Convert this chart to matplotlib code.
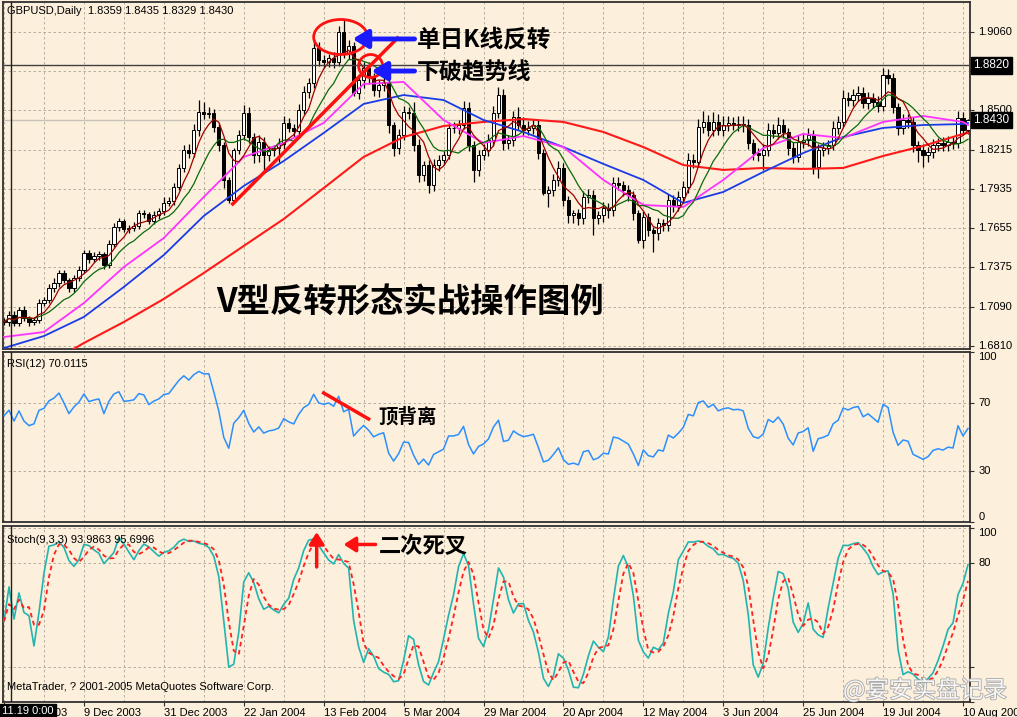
import numpy as np
import pandas as pd
import matplotlib
matplotlib.use('Agg')
import matplotlib.pyplot as plt
import matplotlib.patheffects as pe
from matplotlib.patches import Ellipse
from matplotlib.transforms import blended_transform_factory

# Datos: cierres diarios GBPUSD (17 Nov 2003 - 11 Aug 2004)
close = [
    1.6981, 1.7031, 1.6974, 1.7067, 1.7009, 1.6981, 1.6995, 1.7117,
    1.7138, 1.7224, 1.7260, 1.7332, 1.7282, 1.7224, 1.7296, 1.7354,
    1.7475, 1.7432, 1.7454, 1.7468, 1.7389, 1.7540, 1.7662, 1.7705,
    1.7647, 1.7655, 1.7669, 1.7762, 1.7755, 1.7705, 1.7748, 1.7776,
    1.7834, 1.7848, 1.7949, 1.8085, 1.8214, 1.8192, 1.8357, 1.8486,
    1.8472, 1.8479, 1.8379, 1.8250, 1.7999, 1.7855, 1.8214, 1.8321,
    1.8479, 1.8307, 1.8178, 1.8271, 1.8178, 1.8214, 1.8228, 1.8257,
    1.8408, 1.8372, 1.8350, 1.8501, 1.8630, 1.8694, 1.8945, 1.8859,
    1.8845, 1.8874, 1.8845, 1.9060, 1.8909, 1.8960, 1.8623, 1.8716,
    1.8802, 1.8737, 1.8644, 1.8680, 1.8702, 1.8393, 1.8228, 1.8321,
    1.8486, 1.8479, 1.8250, 1.8035, 1.8106, 1.7963, 1.8106, 1.8142,
    1.8178, 1.8372, 1.8372, 1.8393, 1.8515, 1.8250, 1.8071, 1.8178,
    1.8214, 1.8286, 1.8479, 1.8608, 1.8264, 1.8286, 1.8451, 1.8393,
    1.8357, 1.8372, 1.8393, 1.8192, 1.7906, 1.7927, 1.7999, 1.8085,
    1.7855, 1.7748, 1.7762, 1.7726, 1.7877, 1.7891, 1.7726, 1.7748,
    1.7798, 1.7784, 1.7977, 1.7963, 1.7927, 1.7891, 1.7762, 1.7569,
    1.7734, 1.7640, 1.7619, 1.7691, 1.7676, 1.7855, 1.7820, 1.7877,
    1.7949, 1.8142, 1.8128, 1.8379, 1.8415, 1.8357, 1.8415, 1.8357,
    1.8393, 1.8408, 1.8393, 1.8400, 1.8390, 1.8264, 1.8192, 1.8178,
    1.8214, 1.8357, 1.8336, 1.8393, 1.8343, 1.8228, 1.8164, 1.8271,
    1.8286, 1.8321, 1.8092, 1.8214, 1.8228, 1.8250, 1.8372, 1.8415,
    1.8587, 1.8572, 1.8608, 1.8623, 1.8551, 1.8587, 1.8558, 1.8529,
    1.8752, 1.8730, 1.8522, 1.8372, 1.8429, 1.8415, 1.8250, 1.8214,
    1.8178, 1.8200, 1.8250, 1.8264, 1.8250, 1.8271, 1.8264, 1.8443,
    1.8359, 1.8430]
first_open = 1.6990

# Sombras superior e inferior (pips)
up_pips = [
    20, 25, 30, 20, 25, 15, 20, 25, 20, 30, 35, 20, 25, 15, 20, 30,
    25, 20, 30, 25, 15, 30, 25, 20, 15, 20, 30, 25, 20, 15, 25, 20,
    40, 30, 25, 30, 35, 40, 45, 85, 70, 40, 30, 25, 20, 20, 15, 35,
    60, 45, 30, 50, 35, 30, 25, 40, 50, 35, 30, 45, 40, 35, 60, 40,
    35, 30, 40, 45, 86, 40, 30, 35, 45, 40, 30, 35, 40, 30, 25, 40,
    45, 35, 80, 40, 30, 35, 40, 35, 30, 45, 40, 35, 50, 40, 30, 35,
    40, 45, 50, 60, 40, 35, 40, 70, 60, 50, 45, 35, 30, 30, 40, 50,
    35, 30, 25, 30, 40, 45, 35, 30, 40, 35, 45, 40, 30, 35, 30, 25,
    40, 30, 25, 35, 30, 40, 35, 40, 45, 50, 40, 60, 80, 50, 70, 60,
    65, 50, 40, 55, 60, 45, 30, 35, 40, 50, 45, 55, 40, 30, 45, 50,
    40, 50, 35, 40, 45, 35, 50, 40, 60, 45, 40, 50, 45, 40, 35, 40,
    50, 40, 35, 30, 45, 40, 35, 30, 40, 35, 40, 35, 45, 40, 35, 50,
    40, 5]
dn_pips = [
    25, 30, 20, 25, 20, 30, 25, 20, 25, 20, 30, 25, 20, 30, 25, 20,
    20, 25, 20, 30, 25, 20, 25, 30, 20, 25, 20, 25, 30, 20, 25, 30,
    30, 25, 30, 25, 30, 35, 30, 40, 35, 30, 35, 40, 55, 21, 20, 30,
    35, 40, 60, 50, 110, 45, 40, 100, 35, 30, 40, 35, 30, 40, 35, 45,
    40, 35, 45, 30, 35, 40, 20, 45, 60, 50, 40, 50, 45, 60, 55, 40,
    35, 40, 45, 50, 40, 57, 45, 40, 35, 30, 35, 40, 30, 45, 86, 40,
    35, 40, 45, 35, 50, 45, 40, 35, 40, 35, 45, 40, 16, 100, 45, 40,
    45, 60, 55, 50, 45, 40, 120, 45, 50, 55, 40, 35, 45, 40, 50, 22,
    60, 45, 136, 50, 40, 45, 50, 40, 35, 40, 45, 35, 40, 45, 40, 35,
    40, 45, 35, 40, 45, 40, 50, 45, 108, 40, 35, 40, 45, 50, 40, 35,
    40, 45, 50, 80, 45, 40, 35, 40, 35, 40, 45, 40, 35, 40, 45, 40,
    35, 40, 45, 50, 40, 45, 50, 88, 85, 50, 45, 40, 45, 40, 45, 35,
    40, 30]

# Medias lentas
ma_idx = [0, 8, 16, 24, 32, 40, 48, 56, 64, 72, 80, 88, 96, 104, 112, 120,
          128, 136, 144, 152, 160, 168, 176, 184, 192, 193]
ma_magenta = [1.6873, 1.6909, 1.7117, 1.7375, 1.7583, 1.7877, 1.8164, 1.8264,
              1.8408, 1.8687, 1.8702, 1.8429, 1.8264, 1.8314, 1.8235, 1.7999,
              1.7820, 1.7805, 1.7999, 1.8228, 1.8329, 1.8300, 1.8415, 1.8458,
              1.8415, 1.8393]
ma_blue = [1.6794, 1.6880, 1.7017, 1.7232, 1.7461, 1.7741, 1.7956, 1.8135,
           1.8336, 1.8544, 1.8608, 1.8572, 1.8429, 1.8343, 1.8235, 1.8114,
           1.7999, 1.7834, 1.7913, 1.8056, 1.8192, 1.8307, 1.8372, 1.8393,
           1.8400, 1.8408]
ma_red = [1.6530, 1.6665, 1.6830, 1.6981, 1.7146, 1.7332, 1.7526, 1.7719,
          1.7941, 1.8164, 1.8307, 1.8386, 1.8415, 1.8436, 1.8415, 1.8343,
          1.8235, 1.8106, 1.8071, 1.8085, 1.8078, 1.8085, 1.8171, 1.8243,
          1.8329, 1.8336]

price_ticks = [1.9060, 1.8780, 1.8500, 1.8215, 1.7935, 1.7655, 1.7375, 1.7090, 1.6810]
date_pos = [0, 16, 32, 48, 64, 80, 96, 112, 128, 144, 160, 176, 192]
date_labels = ['17 Nov 2003', '9 Dec 2003', '31 Dec 2003', '22 Jan 2004', '13 Feb 2004',
               '5 Mar 2004', '29 Mar 2004', '20 Apr 2004', '12 May 2004', '3 Jun 2004',
               '25 Jun 2004', '19 Jul 2004', '10 Aug 2004']
rsi_seed = (0.0030, 0.0018)

# Configuración general
BG = '#fcefdb'
FRAME = '#303030'
GRID = '#aaa398'
UI = ['Liberation Sans', 'DejaVu Sans']
CJK = ['Noto Sans CJK SC', 'DejaVu Sans']
plt.rcParams['font.family'] = UI

# Cálculos de velas e indicadores
n = len(close)
x = np.arange(n)
c = np.array(close)
o = np.array([first_open] + close[:-1])
hi = np.maximum(o, c) + np.array(up_pips) / 10000
lo = np.minimum(o, c) - np.array(dn_pips) / 10000
sma5 = pd.Series(c).rolling(5, min_periods=1).mean()
sma10 = pd.Series(c).rolling(10, min_periods=1).mean()

g, l = rsi_seed
rsi = [100 * g / (g + l)]
for i in range(1, n):
    d = c[i] - c[i - 1]
    g = (g * 11 + max(d, 0)) / 12
    l = (l * 11 + max(-d, 0)) / 12
    rsi.append(100 * g / (g + l))

hh = pd.Series(hi).rolling(9, min_periods=1).max()
ll = pd.Series(lo).rolling(9, min_periods=1).min()
num = (pd.Series(c) - ll).rolling(3, min_periods=1).sum()
den = (hh - ll).rolling(3, min_periods=1).sum()
stoch_k = 100 * num / den
stoch_d = stoch_k.rolling(3, min_periods=1).mean()

# Figura y paneles
W, H = 1017, 717
fig = plt.figure(figsize=(W / 100, H / 100), dpi=100, facecolor=BG)


def panel(top, bottom):
    ax = fig.add_axes([3 / W, 1 - bottom / H, 967 / W, (bottom - top) / H])
    ax.set_facecolor(BG)
    for s in ax.spines.values():
        s.set_color(FRAME)
        s.set_linewidth(1.3)
    ax.set_xlim(-0.2, 193.4)
    ax.set_xticks(date_pos)
    ax.set_xticks([p + 8 for p in date_pos[:-1]], minor=True)
    ax.grid(True, which='both', linestyle=(0, (3, 3)), color=GRID, lw=0.6)
    ax.yaxis.tick_right()
    ax.tick_params(axis='x', which='both', length=0, labelbottom=False)
    ax.tick_params(axis='y', which='both', length=3, width=0.8, color=FRAME, labelright=False)
    ax.set_axisbelow(True)
    return ax


def right_label(ax, value, text, va='center'):
    tr = blended_transform_factory(ax.transAxes, ax.transData)
    ax.text(1.0085, value, text, transform=tr, ha='left', va=va, fontsize=8,
            color='black', clip_on=False)


ax1 = panel(2, 349)
ax2 = panel(352, 522)
ax3 = panel(526, 702)

# Panel principal: velas y medias
ax1.set_ylim(1.6787, 1.9275)
ax1.set_yticks(price_ticks)
up = c >= o
body = np.maximum(np.abs(c - o), 0.00025)
ax1.vlines(x, lo, hi, color='black', lw=0.9, zorder=2)
ax1.bar(x[up], body[up], bottom=o[up], width=0.65, color='white', edgecolor='black', lw=0.7, zorder=3)
ax1.bar(x[~up], body[~up], bottom=c[~up], width=0.65, color='black', edgecolor='black', lw=0.7, zorder=3)
ax1.plot(ma_idx, ma_red, color='#ff1a1a', lw=1.5, zorder=4)
ax1.plot(ma_idx, ma_blue, color='#1a3ce6', lw=1.3, zorder=4)
ax1.plot(ma_idx, ma_magenta, color='#ff33ff', lw=1.3, zorder=4)
ax1.plot(x, sma10, color='#0a6a0a', lw=0.9, zorder=4)
ax1.plot(x, sma5, color='#a00000', lw=0.9, zorder=4)
ax1.axhline(1.8430, color='#c8c2b8', lw=1, zorder=1)
ax1.axhline(1.8820, color='#404040', lw=1, zorder=5)
for t in price_ticks:
    right_label(ax1, t, '%.4f' % t)
box = dict(boxstyle='square,pad=0.18', fc='black', ec='black')
for v in (1.8820, 1.8430):
    tr = blended_transform_factory(ax1.transAxes, ax1.transData)
    ax1.text(1.0035, v, '%.4f' % v, transform=tr, ha='left', va='center', fontsize=8.5,
             color='white', bbox=box, clip_on=False, zorder=10)
ax1.text(0.004, 0.974, 'GBPUSD,Daily  1.8359 1.8435 1.8329 1.8430', transform=ax1.transAxes,
         fontsize=8, va='center', ha='left')

# Anotaciones del panel principal
ax1.add_patch(Ellipse((67.4, 1.9024), 10.8, 0.0251, fill=False, ec='#ff1010', lw=2, zorder=6))
ax1.add_patch(Ellipse((73.4, 1.8816), 4.8, 0.0165, fill=False, ec='#ff1010', lw=2, zorder=6))
ax1.plot([45.8, 78.8], [1.7827, 1.9017], color='#ff1010', lw=2.5, zorder=6)
arrow_blue = dict(arrowstyle='-|>,head_length=0.9,head_width=0.55', color='#1a1aff', lw=3.5,
                  shrinkA=0, shrinkB=0)
ax1.annotate('', xy=(69.8, 1.9010), xytext=(82.2, 1.9010), arrowprops=arrow_blue, zorder=7)
ax1.annotate('', xy=(73.6, 1.8780), xytext=(82.2, 1.8780), arrowprops=arrow_blue, zorder=7)
ax1.text(82.6, 1.9003, '单日K线反转', family=CJK, fontsize=17, weight='bold', va='center', zorder=8)
ax1.text(82.6, 1.8766, '下破趋势线', family=CJK, fontsize=16.5, weight='bold', va='center', zorder=8)
ax1.text(42.4, 1.7124, 'V型反转形态实战操作图例', family=CJK, fontsize=24, weight='bold',
         va='center', zorder=8)

# Panel RSI
ax2.set_ylim(0, 100)
ax2.set_yticks([0, 30, 70, 100])
ax2.plot(x, rsi, color='#2b8fff', lw=1.1, zorder=3)
right_label(ax2, 100, '100', va='top')
right_label(ax2, 70, '70')
right_label(ax2, 30, '30')
right_label(ax2, 0, '0', va='bottom')
ax2.text(0.004, 0.93, 'RSI(12) 70.0115', transform=ax2.transAxes, fontsize=8, va='center')
ax2.plot([64, 73], [75.9, 60.6], color='#ff1010', lw=2.5, zorder=6)
ax2.text(75, 62, '顶背离', family=CJK, fontsize=14, weight='bold', va='center', zorder=8)

# Panel estocástico
ax3.set_ylim(0, 101)
ax3.set_yticks([0, 20, 80, 100])
ax3.plot(x, stoch_k, color='#22b5b0', lw=1.2, zorder=3)
ax3.plot(x, stoch_d, color='#ff2020', lw=1.3, linestyle=(0, (2.5, 2)), zorder=4)
right_label(ax3, 100, '100', va='top')
right_label(ax3, 80, '80')
ax3.text(0.004, 0.92, 'Stoch(9,3,3) 93.9863 95.6996', transform=ax3.transAxes, fontsize=8, va='center')
ax3.text(0.004, 0.085, 'MetaTrader, ? 2001-2005 MetaQuotes Software Corp.', transform=ax3.transAxes,
         fontsize=8, va='center')
arrow_red = dict(arrowstyle='-|>,head_length=0.7,head_width=0.45', color='#ff1010', lw=2.5,
                 shrinkA=0, shrinkB=0)
ax3.annotate('', xy=(62.6, 97.5), xytext=(62.6, 77.5), arrowprops=arrow_red, zorder=7)
ax3.annotate('', xy=(68.0, 90.4), xytext=(74.4, 90.4), arrowprops=arrow_red, zorder=7)
ax3.text(75, 89, '二次死叉', family=CJK, fontsize=16, weight='bold', va='center', zorder=8)

# Eje de fechas
ax3.set_xticks(date_pos)
ax3.set_xticklabels(date_labels, ha='left')
ax3.tick_params(axis='x', which='major', length=3, width=0.8, color=FRAME, labelbottom=True,
                labelsize=8, pad=1)

# Cursor (línea vertical) y etiqueta de fecha
for ax in (ax1, ax2, ax3):
    ax.axvline(1.4, color='#202020', lw=1, zorder=5)
fig.text(2 / W, 1 - 711 / H, '11.19 0:00', fontsize=8, color='white', va='center', ha='left',
         bbox=dict(boxstyle='square,pad=0.2', fc='black', ec='black'), zorder=10)

# Marca de agua
fig.text(843 / W, 1 - 690 / H, '@宴安实盘记录', family=CJK, fontsize=17, color='white', alpha=0.9,
         va='center', ha='left', zorder=10,
         path_effects=[pe.withStroke(linewidth=1.2, foreground='#a0a0a0')])

fig.savefig('out.png', dpi=100, facecolor=BG)
plt.close()
